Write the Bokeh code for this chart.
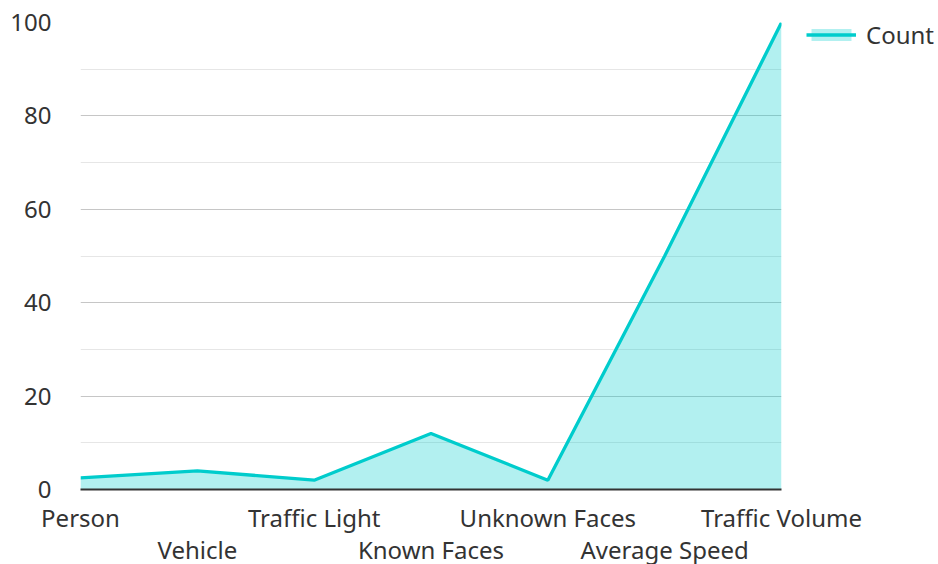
from bokeh.plotting import figure
from bokeh.models import (ColumnDataSource, FixedTicker, LinearAxis, Legend, LegendItem,
                          Range1d)
from bokeh.embed import file_html
from bokeh.resources import INLINE

categories = ["Person", "Vehicle", "Traffic Light", "Known Faces",
              "Unknown Faces", "Average Speed", "Traffic Volume"]
counts = [2.5, 4, 2, 12, 2, 50, 100]
y_ticks = [0, 20, 40, 60, 80, 100]
y_minor = [10, 30, 50, 70, 90]

FONT = "Noto Sans"
TEXT = "#333333"
LINE = "#00cccc"
FS = "24px"

xs = list(range(len(categories)))
src = ColumnDataSource(dict(x=xs, y=counts, base=[0] * len(xs)))

p = figure(frame_width=701, frame_height=467, output_backend="svg", toolbar_location=None,
           x_range=Range1d(0, len(categories) - 1), y_range=Range1d(0, 100),
           min_border_left=80, min_border_right=153, min_border_top=22,
           min_border_bottom=0)
p.outline_line_color = None

area = p.varea(x="x", y1="base", y2="y", source=src, fill_color=LINE, fill_alpha=0.3)
line = p.line(x="x", y="y", source=src, line_color=LINE, line_width=3.3)

# x axis rows (staggered labels)
even = [i for i in xs if i % 2 == 0]
odd = [i for i in xs if i % 2 == 1]
ax1 = p.xaxis[0]
ax1.ticker = FixedTicker(ticks=even)
ax1.major_label_overrides = {i: categories[i] for i in even}
ax2 = LinearAxis(ticker=FixedTicker(ticks=odd),
                 major_label_overrides={i: categories[i] for i in odd})
p.add_layout(ax2, "below")
for ax in (ax1, ax2):
    ax.major_tick_line_color = None
    ax.minor_tick_line_color = None
    ax.major_label_text_font = FONT
    ax.major_label_text_font_size = FS
    ax.major_label_text_color = TEXT
ax1.axis_line_color = TEXT
ax1.axis_line_width = 2
ax1.major_label_standoff = 5
ax2.axis_line_color = None
ax2.major_label_standoff = -10

ya = p.yaxis[0]
ya.ticker = FixedTicker(ticks=y_ticks, minor_ticks=y_minor)
ya.axis_line_color = None
ya.major_tick_line_color = None
ya.minor_tick_line_color = None
ya.major_label_text_font = FONT
ya.major_label_text_font_size = FS
ya.major_label_text_color = TEXT
ya.major_label_standoff = 23

p.xgrid.grid_line_color = None
p.ygrid.grid_line_color = "#c6c6c6"
p.ygrid.grid_line_width = 1
p.ygrid.minor_grid_line_color = "#e6e6e6"
p.ygrid.minor_grid_line_width = 1

legend = Legend(items=[LegendItem(label="Count", renderers=[area, line])],
                location=(25, 438), margin=0, padding=0,
                border_line_color=None, background_fill_alpha=0,
                glyph_width=50, glyph_height=15, label_standoff=10,
                label_text_font=FONT, label_text_font_size=FS,
                label_text_color=TEXT)
p.add_layout(legend, "right")

open("out.html", "w").write(file_html(p, INLINE))
